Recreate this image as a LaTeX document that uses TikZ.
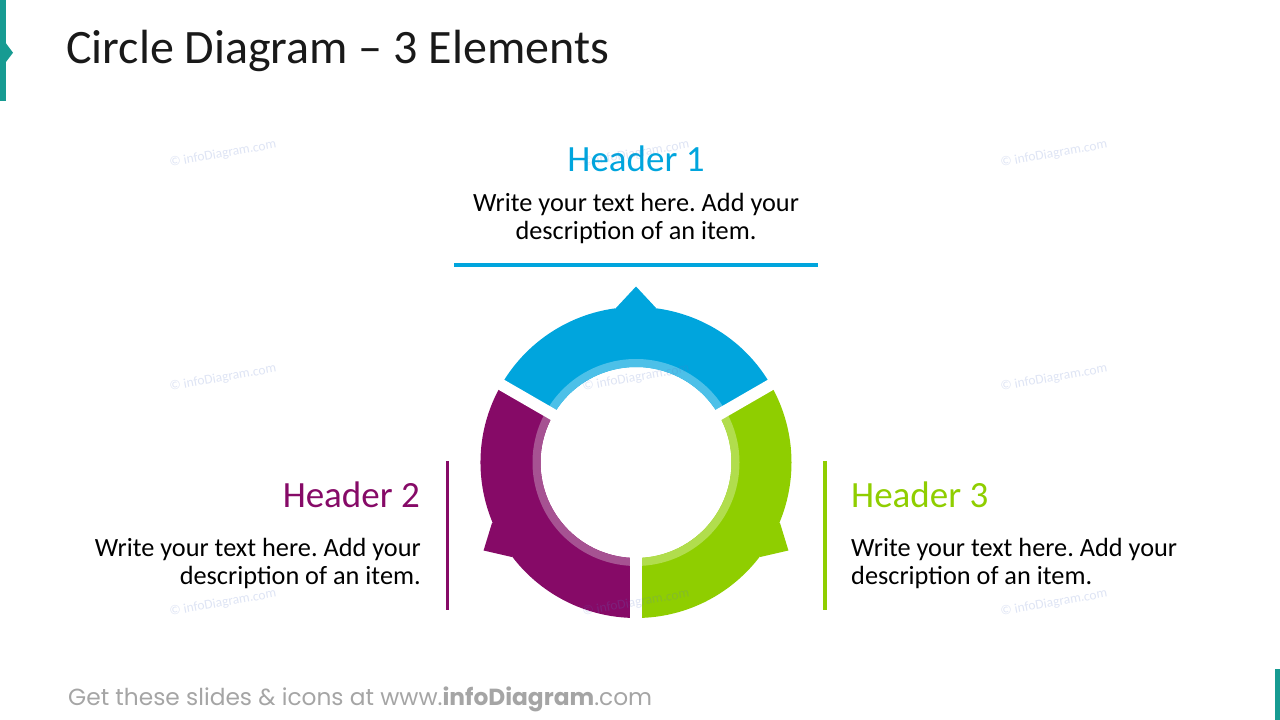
\documentclass[tikz,border=0pt]{standalone}
\usepackage{fontspec}
\setmainfont{Carlito}
\newfontfamily\footfont{Poppins}
\usetikzlibrary{positioning}
\definecolor{teal1}{RGB}{23,155,146}
\definecolor{hdblue}{RGB}{0,165,221}
\definecolor{hdblueL}{RGB}{77,192,232}
\definecolor{hdpurple}{RGB}{134,10,103}
\definecolor{hdpurpleL}{RGB}{166,82,146}
\definecolor{hdgreen}{RGB}{143,206,0}
\definecolor{hdgreenL}{RGB}{177,221,77}
\definecolor{footgray}{RGB}{165,165,165}
\definecolor{wmblue}{RGB}{90,120,200}
\frenchspacing

\begin{document}
\begin{tikzpicture}[x=1pt, y=1pt, font=\fontsize{26.3}{28.4}\selectfont,
		head/.style={font=\fontsize{37}{40}\selectfont},
		wmark/.style={text=wmblue, opacity=0.2, rotate=10, font=\fontsize{13.5}{14}\selectfont}]
	%Rahmen
	\useasboundingbox (0,0) rectangle (1280,720);
	\fill[teal1] (0,619) rectangle (5.5,720);
	\fill[teal1] (5,678) -- (13,667.3) -- (5,656.7) -- cycle;
	\fill[teal1] (1275,0) rectangle (1280,51);
	% Titel
	\node[anchor=base west, inner sep=0pt, text=black!90, font=\fontsize{48}{50}\selectfont] (titel) at (66,656) {Circle Diagram -- 3 Elements};
	% Ring zeichnen
	\begin{scope}[shift={(636,257.5)}]
		\foreach \a/\b/\t/\c/\l in {30/150/90/hdblue/hdblueL, 150/270/210/hdpurple/hdpurpleL, 270/390/330/hdgreen/hdgreenL}
		{
			\fill[\c] (\a:155.5) arc[start angle=\a, end angle=\b, radius=155.5] -- (\b:95.5) arc[start angle=\b, end angle=\a, radius=95.5] -- cycle;
			\fill[\l] (\a:103.5) arc[start angle=\a, end angle=\b, radius=103.5] -- (\b:95.5) arc[start angle=\b, end angle=\a, radius=95.5] -- cycle;
			\fill[\c] (\t-7.3:156) -- (\t:176) -- (\t+7.3:156) -- (\t:140) -- cycle;
		}
		% Luecken
		\foreach \g in {30,150,270} \draw[white, line width=11.5] (0,0) -- (\g:190);
	\end{scope}
	% Header 1
	\node[head, anchor=base, inner sep=0pt, text=hdblue] (h1) at (636,548) {Header 1};
	\node[anchor=base, align=center, inner sep=0pt] (t1) at (636,480) {Write your text here. Add your\\description of an item.};
	\draw[hdblue, line width=4] (454,455) -- (818,455);
	% Header 2
	\node[head, anchor=base east, inner sep=0pt, text=hdpurple] (h2) at (420,212) {Header 2};
	\node[anchor=base east, align=right, inner sep=0pt] (t2) at (421,135) {Write your text here. Add your\\description of an item.};
	\draw[hdpurple, line width=3.5] (447.5,259) -- (447.5,110);
	% Header 3
	\node[head, anchor=base west, inner sep=0pt, text=hdgreen] (h3) at (851,212) {Header 3};
	\node[anchor=base west, align=left, inner sep=0pt] (t3) at (851,135) {Write your text here. Add your\\description of an item.};
	\draw[hdgreen, line width=3.5] (825,259) -- (825,110);
	% Wasserzeichen
	\foreach \wx in {223,636,1054}
		\foreach \wy in {566,342,117}
			\node[wmark] (wm-\wx-\wy) at (\wx,\wy) {\copyright\ infoDiagram.com};
	% Fusszeile
	\node[anchor=base west, inner sep=0pt, text=footgray, font=\footfont\fontsize{23.3}{25}\selectfont] (fuss) at (68,14) {Get these slides \& icons at www.\textbf{infoDiagram}.com};
\end{tikzpicture}
\end{document}
